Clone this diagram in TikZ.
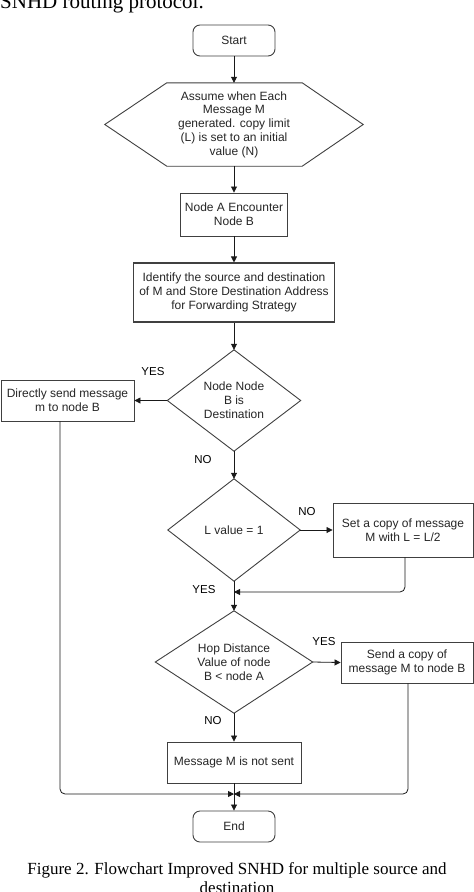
\documentclass[tikz,border=0pt]{standalone}
\usepackage{fontspec}
\setmainfont{Liberation Sans}
\newfontfamily\capfont{Liberation Serif}
\usetikzlibrary{arrows.meta}
\begin{document}
\begin{tikzpicture}[x=1pt,y=-1pt,
  every node/.style={font=\fontsize{12}{13.8}\selectfont, text=black!85, align=center, inner sep=0pt},
  box/.style={draw=black!75, line width=0.9pt},
  term/.style={box, rounded corners=7pt},
  outline/.style={draw=black!75, line width=0.9pt},
  arr/.style={draw=black!90, line width=0.8pt, -{Triangle[length=6pt,width=6pt]}},
  lbl/.style={font=\fontsize{11.5}{13}\selectfont, text=black},
  captxt/.style={font=\capfont\fontsize{17}{19}\selectfont, text=black, anchor=base},
]
\useasboundingbox (0,0) rectangle (474,892);
\fill[white] (0,0) rectangle (474,892);

\node[font=\capfont\fontsize{21}{24}\selectfont, text=black, anchor=base west] (toptext) at (0,8) {SNHD routing protocol.};

\node[term, minimum width=82pt, minimum height=31pt] (start) at (234,40.5) {Start};

\node[minimum width=258pt, minimum height=83pt] (hex) at (234,124.5) {Assume when Each\\Message M\\generated. copy limit\\(L) is set to an initial\\value (N)};
\draw[outline] (hex.west) -- ([xshift=62pt]hex.north west) -- ([xshift=-61pt]hex.north east) -- (hex.east) -- ([xshift=-61pt]hex.south east) -- ([xshift=62pt]hex.south west) -- cycle;

\node[box, minimum width=107pt, minimum height=43pt] (nodea) at (234,214.5) {Node A Encounter\\Node B};

\node[box, line width=1.1pt, minimum width=201pt, minimum height=59pt] (ident) at (234,292.5) {Identify the source and destination\\of M and Store Destination Address\\for Forwarding Strategy};

\node[minimum width=133pt, minimum height=101pt] (d1) at (234,400.5) {Node Node\\B is\\Destination};
\draw[outline] (d1.north) -- (d1.east) -- (d1.south) -- (d1.west) -- cycle;

\node[box, minimum width=133pt, minimum height=41pt] (direct) at (67.5,400.5) {Directly send message\\m to node B};

\node[minimum width=132pt, minimum height=102pt] (d2) at (234,530) {L value = 1};
\draw[outline] (d2.north) -- (d2.east) -- (d2.south) -- (d2.west) -- cycle;

\node[box, minimum width=140pt, minimum height=54pt] (setc) at (403,530) {Set a copy of message\\M with L = L/2};

\node[minimum width=157pt, minimum height=102pt] (d3) at (234,662) {Hop Distance\\Value of node\\B {<} node A};
\draw[outline] (d3.north) -- (d3.east) -- (d3.south) -- (d3.west) -- cycle;

\node[box, minimum width=132pt, minimum height=41pt] (send) at (407,662.5) {Send a copy of\\message M to node B};

\node[box, minimum width=134pt, minimum height=41pt] (msg) at (234,762.5) {Message M is not sent};

\node[term, minimum width=82pt, minimum height=31pt] (end) at (234,826.5) {End};

\coordinate (j1) at (234,592);
\coordinate (j2) at (234,794);

\draw[arr] (start) -- (hex);
\draw[arr] (hex) -- (nodea);
\draw[arr] (nodea) -- (ident);
\draw[arr] (ident) -- (d1.north);
\draw[arr] (d1.west) -- (direct.east);
\draw[arr] (d1.south) -- (d2.north);
\draw[arr] (d2.east) -- (setc.west);
\draw[arr, rounded corners=5pt] ([xshift=2pt]setc.south) |- (j1);
\draw[arr] (d2.south) -- (d3.north);
\draw[arr] (d3.east) -- (send.west);
\draw[arr] (d3.south) -- (msg.north);
\draw[arr] (msg.south) -- (end.north);
\draw[arr, rounded corners=5pt] ([xshift=-7.5pt]direct.south) |- (j2);
\draw[arr, rounded corners=5pt] ([xshift=1pt]send.south) |- (j2);

\node[lbl] (l1) at (153,372) {YES};
\node[lbl] (l2) at (203,460) {NO};
\node[lbl] (l3) at (307,512) {NO};
\node[lbl] (l4) at (204,590) {YES};
\node[lbl] (l5) at (324,642) {YES};
\node[lbl] (l6) at (213,721) {NO};

\node[captxt] (cap1) at (237,874) {Figure 2. Flowchart Improved SNHD for multiple source and};
\node[captxt] (cap2) at (237,893) {destination};
\end{tikzpicture}
\end{document}
